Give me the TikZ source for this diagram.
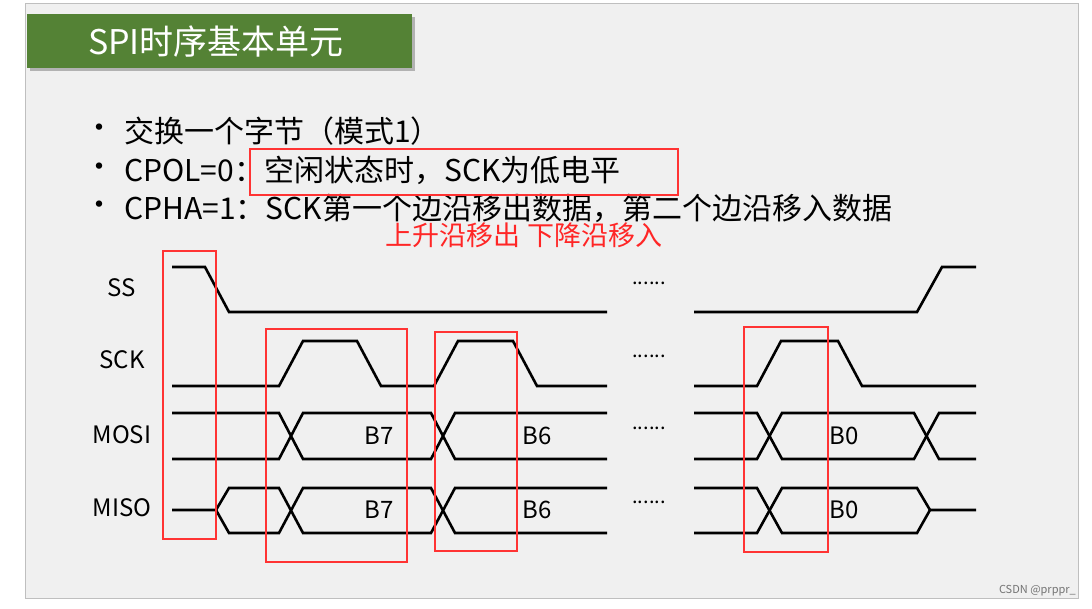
\documentclass[tikz,border=0pt]{standalone}
\usepackage{fontspec}
\setmainfont{Noto Sans CJK SC}
\begin{document}
\begin{tikzpicture}[x=1pt,y=-1pt,
  w/.style={line width=2.6pt,black},
  rb/.style={draw=red!80!white,line width=2.8pt},
  lab/.style={font=\fontsize{24}{26}\selectfont,inner sep=0},
  bt/.style={font=\fontsize{30}{34}\selectfont,anchor=west,inner sep=0},
  dots/.style={font=\fontsize{20}{22}\selectfont,inner sep=0}]
\useasboundingbox (0,0) rectangle (1092,608);
\fill[white] (0,0) rectangle (1092,608);
\fill[black!6] (25,3) rectangle (1078,598);
\draw[black!25] (25,3) rectangle (1078,598);
% title
\fill[black!30] (30,17) rectangle (415,71);
\fill[fill={rgb,255:red,84;green,130;blue,53}] (27,14) rectangle (412,68);
\node[font=\fontsize{34}{36}\selectfont,text=white,anchor=west,inner sep=0] (title) at (88,42) {SPI时序基本单元};
% bullets
\node[bt] (b1d) at (84,131) {•};
\node[bt] (b1) at (124,131) {交换一个字节（模式1）};
\node[bt] (b2d) at (84,170) {•};
\node[bt] (b2) at (124,170) {CPOL=0：空闲状态时，SCK为低电平};
\node[bt] (b3d) at (84,208) {•};
\node[bt] (b3) at (124,208) {CPHA=1：SCK第一个边沿移出数据，第二个边沿移入数据};
\node[font=\fontsize{27}{30}\selectfont,inner sep=0,text=red!85!white] (note) at (524,235) {上升沿移出 下降沿移入};
% labels
\node[lab] (ss) at (122,288) {SS};
\node[lab] (sck) at (122,360) {SCK};
\node[lab] (mosi) at (122,435) {MOSI};
\node[lab] (miso) at (122,508) {MISO};
\foreach \y/\n in {287/d1,360/d2,432/d3,506/d4}
  \node[dots] (\n) at (649,\y-4) {......};
% SS
\draw[w] (172,267) -- (205,267) -- (229,312) -- (607,312);
\draw[w] (694,312) -- (917,312) -- (942,267) -- (976,267);
% SCK
\draw[w] (172,386) -- (279,386) -- (303,341) -- (357,341) -- (381,386) -- (434,386) -- (458,341) -- (513,341) -- (537,386) -- (607,386);
\draw[w] (694,386) -- (757,386) -- (781,341) -- (838,341) -- (862,386) -- (976,386);
% MOSI
\draw[w] (172,413) -- (279,413) -- (303,459) -- (431,459) -- (455,413) -- (607,413);
\draw[w] (172,459) -- (279,459) -- (303,413) -- (431,413) -- (455,459) -- (607,459);
\draw[w] (694,413) -- (757,413) -- (782,459) -- (914,459) -- (939,413) -- (976,413);
\draw[w] (694,459) -- (757,459) -- (782,413) -- (914,413) -- (939,459) -- (976,459);
% MISO
\draw[w] (172,510) -- (216,510) -- (229,488) -- (279,488) -- (303,533) -- (431,533) -- (455,488) -- (607,488);
\draw[w] (216,510) -- (229,533) -- (279,533) -- (303,488) -- (431,488) -- (455,533) -- (607,533);
\draw[w] (694,488) -- (757,488) -- (782,533) -- (917,533) -- (930,510) -- (976,510);
\draw[w] (694,533) -- (757,533) -- (782,488) -- (917,488) -- (930,510);
% data labels
\node[lab] (b7a) at (379,436) {B7};
\node[lab] (b7b) at (379,510) {B7};
\node[lab] (b6a) at (537,436) {B6};
\node[lab] (b6b) at (537,510) {B6};
\node[lab] (b0a) at (844,436) {B0};
\node[lab] (b0b) at (844,510) {B0};
% red boxes
\draw[rb] (250,149) rectangle (678,195);
\draw[rb] (163,251) rectangle (216,539);
\draw[rb] (266,329) rectangle (407,562);
\draw[rb] (435,332) rectangle (517,551);
\draw[rb] (744,327) rectangle (828,552);
\node[font=\fontsize{11}{12}\selectfont,text=black!55,anchor=east,inner sep=0] (wm) at (1076,591) {CSDN @prppr\_};
\end{tikzpicture}
\end{document}
